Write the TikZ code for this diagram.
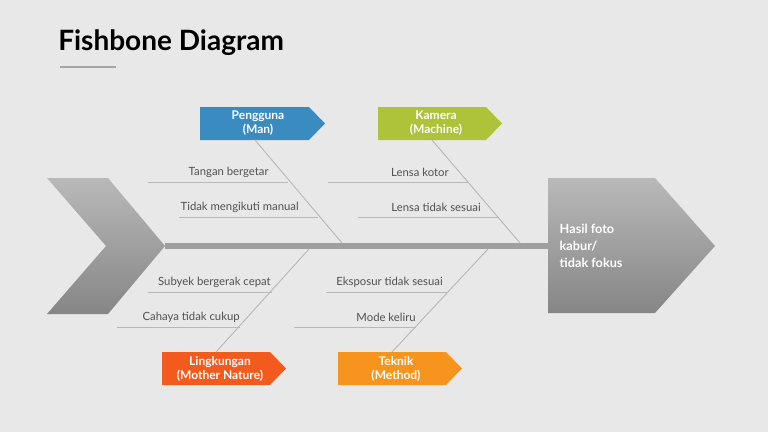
\documentclass[tikz,border=0pt]{standalone}
\usepackage{fontspec}
\setmainfont{Lato}
\definecolor{bg}{HTML}{E9E8E9}
\definecolor{bone}{HTML}{B8B8B8}
\definecolor{txt}{HTML}{505050}
\definecolor{cman}{HTML}{3A8BBF}
\definecolor{cmach}{HTML}{AEC23A}
\definecolor{cenv}{HTML}{F25A1E}
\definecolor{cmeth}{HTML}{F7941D}
\begin{document}
\begin{tikzpicture}[x=0.75pt,y=-0.75pt,
  cat/.style={text=white,font=\bfseries\fontsize{9}{10.5}\selectfont,align=center},
  lbl/.style={text=txt,font=\fontsize{8.5}{10}\selectfont,anchor=east,inner sep=0pt},
  sub/.style={draw=bone,line width=0.7pt},
  bonel/.style={draw=bone,line width=0.7pt}]
\fill[bg] (0,0) rectangle (768,432);
\useasboundingbox (0,0) rectangle (768,432);
\node[anchor=west,font=\bfseries\fontsize{21}{24}\selectfont,inner sep=0pt] (title) at (58,43) {Fishbone Diagram};
\draw[line width=1pt,gray!70] (60,67) -- (116,67);
% tail
\shade[top color=gray!55,bottom color=gray!95] (47,178) -- (108,178) -- (165,246) -- (108,314) -- (47,314) -- (106,246) -- cycle;
% spine
\coordinate (s0) at (165,246);
\coordinate (s1) at (550,246);
\draw[line width=4.5pt,gray!75] (s0) -- (s1);
% head
\shade[top color=gray!55,bottom color=gray!95] (548,178) -- (655,178) -- (715,246) -- (655,313) -- (548,313) -- cycle;
\node[anchor=west,text=white,font=\bfseries\fontsize{9.5}{13}\selectfont,align=left] (head) at (555,246) {Hasil foto\\kabur/\\tidak fokus};
% category boxes
\fill[cman] (200,107) -- (309,107) -- (325,123.5) -- (309,140) -- (200,140) -- cycle;
\node[cat] (man) at (258,123.5) {Pengguna\\(Man)};
\fill[cmach] (378,107) -- (486,107) -- (502,123.5) -- (486,140) -- (378,140) -- cycle;
\node[cat] (mach) at (436,123.5) {Kamera\\(Machine)};
\fill[cenv] (162,352) -- (270,352) -- (286,368.5) -- (270,385) -- (162,385) -- cycle;
\node[cat] (env) at (220,368.5) {Lingkungan\\(Mother Nature)};
\fill[cmeth] (338,352) -- (446,352) -- (462,368.5) -- (446,385) -- (338,385) -- cycle;
\node[cat] (meth) at (396,368.5) {Teknik\\(Method)};
% bones
\coordinate (m0) at (255,140); \coordinate (m1) at (342,243);
\coordinate (k0) at (432,140); \coordinate (k1) at (520,243);
\coordinate (l0) at (309,249); \coordinate (l1) at (216,352);
\coordinate (t0) at (488,249); \coordinate (t1) at (392,352);
\draw[bonel] (m0) -- (m1);
\draw[bonel] (k0) -- (k1);
\draw[bonel] (l0) -- (l1);
\draw[bonel] (t0) -- (t1);
% sub causes
\coordinate (a0) at (148,182); \coordinate (a1) at (288,182);
\coordinate (b0) at (179,217); \coordinate (b1) at (318,217);
\coordinate (c0) at (328,182); \coordinate (c1) at (468,182);
\coordinate (d0) at (358,217); \coordinate (d1) at (499,217);
\coordinate (e0) at (148,292); \coordinate (e1) at (272,292);
\coordinate (f0) at (117,327); \coordinate (f1) at (240,327);
\coordinate (g0) at (326,292); \coordinate (g1) at (448,292);
\coordinate (h0) at (294,327); \coordinate (h1) at (416,327);
\foreach \p in {a,b,c,d,e,f,g,h} \draw[sub] (\p0) -- (\p1);
\node[lbl] (ta) at (269,172) {Tangan bergetar};
\node[lbl] (tb) at (299,207) {Tidak mengikuti manual};
\node[lbl] (tc) at (449,172) {Lensa kotor};
\node[lbl] (td) at (481,207) {Lensa tidak sesuai};
\node[lbl] (te) at (271,282) {Subyek bergerak cepat};
\node[lbl] (tf) at (240,317) {Cahaya tidak cukup};
\node[lbl] (tg) at (443,282) {Eksposur tidak sesuai};
\node[lbl] (th) at (416,317) {Mode keliru};
\end{tikzpicture}
\end{document}
